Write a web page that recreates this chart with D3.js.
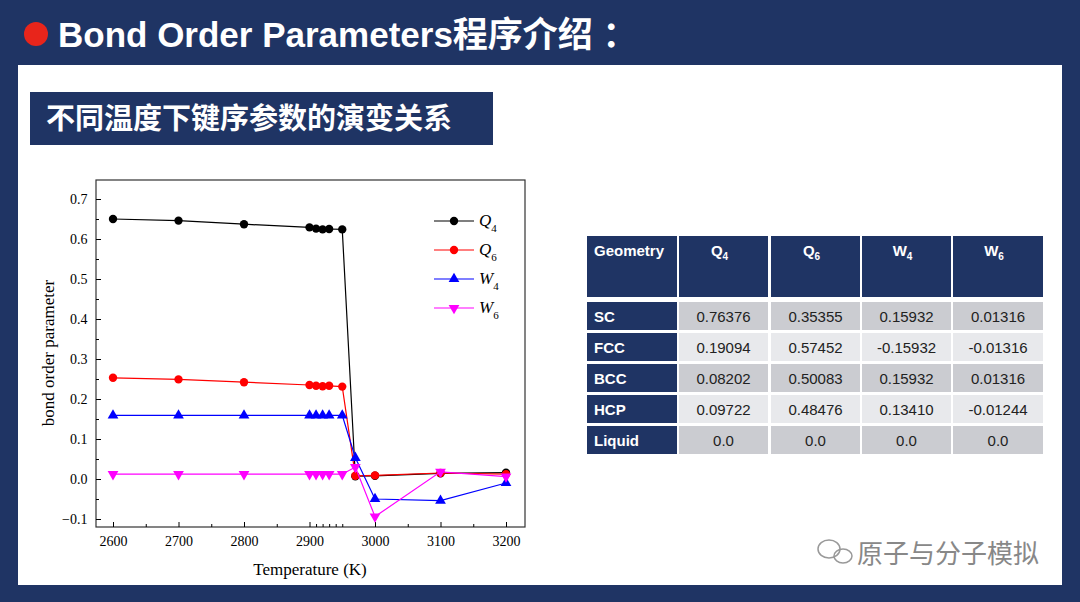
<!DOCTYPE html>
<html><head><meta charset="utf-8">
<script src="https://cdn.jsdelivr.net/npm/d3@7"></script>
<style>body{margin:0;background:#1f3464;}svg{display:block}</style>
</head><body><svg id="s" width="1080" height="602"></svg>
<script>
const temps=[2600,2700,2800,2900,2910,2920,2930,2950,2970,3000,3100,3200];
const q4=[0.650,0.646,0.637,0.629,0.626,0.624,0.625,0.624,0.007,0.008,0.014,0.016];
const q6=[0.253,0.249,0.242,0.235,0.233,0.232,0.233,0.231,0.008,0.009,0.015,0.012];
const w4=[0.159,0.159,0.159,0.159,0.159,0.159,0.159,0.159,0.053,-0.050,-0.054,-0.010];
const w6=[0.012,0.012,0.012,0.012,0.012,0.012,0.012,0.012,0.030,-0.094,0.018,0.006];
const xTicks=[2600,2700,2800,2900,3000,3100,3200];
const yTicks=[-0.1,0,0.1,0.2,0.3,0.4,0.5,0.6,0.7];
const seriesNames=["Q","Q","W","W"], seriesSubs=["4","6","4","6"];
const seriesColors=["#000000","#ff0000","#0000ff","#ff00ff"];
const seriesSymbols=["circle","circle","up","down"];
const tableHeader=["Geometry","Q","Q","W","W"], tableSubs=["","4","6","4","6"];
const tableRows=["SC","FCC","BCC","HCP","Liquid"];
const tableValues=[["0.76376","0.35355","0.15932","0.01316"],["0.19094","0.57452","-0.15932","-0.01316"],["0.08202","0.50083","0.15932","0.01316"],["0.09722","0.48476","0.13410","-0.01244"],["0.0","0.0","0.0","0.0"]];

const svg=d3.select("#s");
const navy="#1f3464";
svg.append("rect").attr("width",1080).attr("height",602).attr("fill",navy);
svg.append("rect").attr("x",18).attr("y",65).attr("width",1044).attr("height",520).attr("fill","#fff");
svg.append("circle").attr("cx",36).attr("cy",34).attr("r",12).attr("fill","#e8251b");
svg.append("text").attr("x",58).attr("y",47).attr("fill","#fff").attr("font-size",35).attr("font-weight","bold")
 .attr("font-family","Arial, 'Liberation Sans', 'Noto Sans CJK SC'").text("Bond Order Parameters程序介绍 ：");
svg.append("rect").attr("x",30).attr("y",92).attr("width",463).attr("height",53).attr("fill",navy);
svg.append("text").attr("x",46).attr("y",129).attr("fill","#fff").attr("font-size",29).attr("font-weight","bold")
 .attr("font-family","'Noto Sans CJK SC'").text("不同温度下键序参数的演变关系");

const x=d3.scaleLinear().domain([2600,3200]).range([113,506]);
const y=d3.scaleLinear().domain([-0.1,0.7]).range([519,199]);
const g=svg.append("g");
g.append("rect").attr("x",96).attr("y",180).attr("width",429).attr("height",347).attr("fill","none").attr("stroke","#333").attr("stroke-width",1.2);
const ff="'Liberation Serif','Times New Roman',serif";
const xa=g.append("g").attr("transform","translate(0,527)").call(d3.axisBottom(x).tickValues(xTicks).tickSize(-5).tickFormat(d3.format("d")));
xa.select(".domain").remove();
xa.selectAll("text").attr("font-family",ff).attr("font-size",14).attr("dy","1.15em");
g.append("g").attr("transform","translate(0,527)").call(d3.axisBottom(x).tickValues(d3.range(2650,3200,100).concat([2910,2920,2930,2940])).tickSize(-3).tickFormat("")).select(".domain").remove();
const ya=g.append("g").attr("transform","translate(96,0)").call(d3.axisLeft(y).tickValues(yTicks).tickSize(-5).tickFormat(d3.format(".1f")));
ya.select(".domain").remove();
ya.selectAll("text").attr("font-family",ff).attr("font-size",14).attr("dx","-0.4em");
g.append("g").attr("transform","translate(96,0)").call(d3.axisLeft(y).tickValues(d3.range(-0.05,0.7,0.1)).tickSize(-3).tickFormat("")).select(".domain").remove();
g.append("text").attr("x",310).attr("y",575).attr("text-anchor","middle").attr("font-family",ff).attr("font-size",17).text("Temperature (K)");
g.append("text").attr("transform","translate(54,353) rotate(-90)").attr("text-anchor","middle").attr("font-family",ff).attr("font-size",17).text("bond order parameter");

const data=[q4,q6,w4,w6];
const sym={circle:d3.symbolCircle,up:d3.symbolTriangle,down:d3.symbolTriangle};
data.forEach((vals,i)=>{
  const c=seriesColors[i];
  g.append("path").datum(vals).attr("fill","none").attr("stroke",c).attr("stroke-width",1.2)
   .attr("d",d3.line().x((d,j)=>x(temps[j])).y(d=>y(d)));
  vals.forEach((v,j)=>{
    g.append("path").attr("d",d3.symbol(sym[seriesSymbols[i]],seriesSymbols[i]=="circle"?55:50)())
     .attr("transform",`translate(${x(temps[j])},${y(v)})${seriesSymbols[i]=="down"?" rotate(180)":""}`).attr("fill",c);
  });
  const ly=221+i*29;
  g.append("line").attr("x1",434).attr("x2",474).attr("y1",ly).attr("y2",ly).attr("stroke",c).attr("stroke-width",1.2);
  g.append("path").attr("d",d3.symbol(sym[seriesSymbols[i]],seriesSymbols[i]=="circle"?55:50)())
   .attr("transform",`translate(454,${ly})${seriesSymbols[i]=="down"?" rotate(180)":""}`).attr("fill",c);
  const t=g.append("text").attr("x",479).attr("y",ly+5).attr("font-family",ff).attr("font-size",17).attr("font-style","italic");
  t.append("tspan").text(seriesNames[i]);
  t.append("tspan").attr("dy",6).attr("font-size",11).attr("font-style","normal").text(seriesSubs[i]);
});

const colX=[587,679,771,862,953], colW=[90,89,89,89,90];
const hf="Arial,'Liberation Sans',sans-serif";
tableHeader.forEach((h,i)=>{
  svg.append("rect").attr("x",colX[i]).attr("y",236).attr("width",colW[i]).attr("height",61).attr("fill",navy);
  const t=svg.append("text").attr("x",i==0?colX[i]+7:colX[i]+colW[i]/2-4).attr("y",256).attr("text-anchor",i==0?"start":"middle")
   .attr("fill","#fff").attr("font-family",hf).attr("font-weight","bold").attr("font-size",15);
  t.append("tspan").text(h);
  if(tableSubs[i]) t.append("tspan").attr("dy",4).attr("font-size",10).text(tableSubs[i]);
});
tableRows.forEach((r,k)=>{
  const yy=302+k*31;
  svg.append("rect").attr("x",colX[0]).attr("y",yy).attr("width",colW[0]).attr("height",28).attr("fill",navy);
  svg.append("text").attr("x",colX[0]+7).attr("y",yy+20).attr("fill","#fff").attr("font-family",hf).attr("font-weight","bold").attr("font-size",15).text(r);
  tableValues[k].forEach((v,i)=>{
    svg.append("rect").attr("x",colX[i+1]).attr("y",yy).attr("width",colW[i+1]).attr("height",28).attr("fill",k%2==0?"#cbccd1":"#e8e9ec");
    svg.append("text").attr("x",colX[i+1]+colW[i+1]/2).attr("y",yy+20).attr("text-anchor","middle").attr("fill","#222").attr("font-family",hf).attr("font-size",15).text(v);
  });
});
const wm=svg.append("g").attr("fill","none").attr("stroke","#999").attr("stroke-width",1.5);
wm.append("ellipse").attr("cx",829).attr("cy",549).attr("rx",11).attr("ry",9);
wm.append("ellipse").attr("cx",843).attr("cy",556).attr("rx",9).attr("ry",7);
svg.append("text").attr("x",857).attr("y",563).attr("fill","#888").attr("font-family","'Noto Sans CJK SC'").attr("font-size",26).text("原子与分子模拟");
</script></body></html>
